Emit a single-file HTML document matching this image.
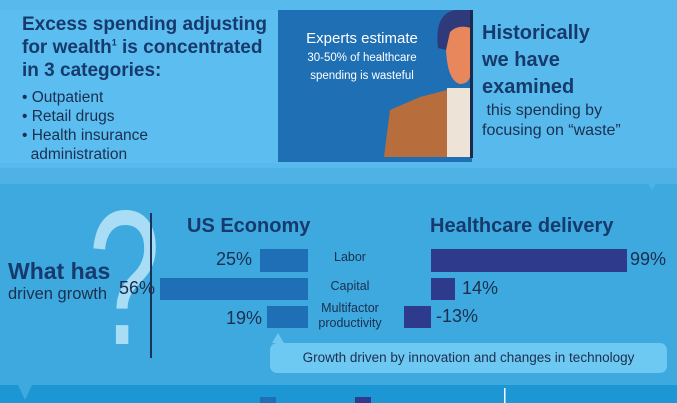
<!DOCTYPE html>
<html><head><meta charset="utf-8"><style>
body{margin:0;width:677px;height:403px;overflow:hidden;position:relative;background:#3da9de;font-family:"Century Gothic","Liberation Sans",sans-serif}
div{position:absolute}
.t{white-space:nowrap}
.r{text-align:right;width:60px}
</style></head><body>
<div style="left:0;top:0;width:677px;height:178px;background:#58b9ec"></div>
<div style="left:0;top:168px;width:677px;height:16px;background:#4eb2e6"></div>
<div style="left:0;top:10px;width:278px;height:153px;background:#5bbdf0"></div>
<div style="left:278px;top:10px;width:194px;height:152px;background:#1f6fb5"></div>
<svg style="position:absolute;left:0;top:0" width="677" height="403">
<polygon points="384,157 390,110 420,97 447,90 447,157" fill="#b86d3d"/>
<rect x="447" y="88" width="24" height="69" fill="#ede3d6"/>
<path d="M446,30 Q444,80 460,84 Q471,84 471,70 L471,22 L448,22 Z" fill="#e8875c"/>
<path d="M438,48 Q434,14 455,10 L471,10 L471,28 Q458,24 450,32 L446,50 Z" fill="#2e3a7a"/>
<rect x="470" y="10" width="3" height="148" fill="#1b2a4a"/>
<polygon points="645,178 660,178 652,190" fill="#4eb2e6"/>
<text x="0" y="0" transform="translate(88,344) scale(0.68,1)" font-family="Liberation Sans,sans-serif" font-size="192" fill="#a9dcf5">?</text>
<rect x="150" y="213" width="2" height="145" fill="#1b3358"/>
<polygon points="272,343 278,333 284,343" fill="#6dc8f2"/>
<rect x="0" y="385" width="677" height="18" fill="#1d97d3"/>
<polygon points="18,385 32,385 25,400" fill="#3da9de"/>
<rect x="260" y="397" width="16" height="6" fill="#1e6fb5"/>
<rect x="355" y="397" width="16" height="6" fill="#2e3a8c"/>
<rect x="504" y="388" width="1.5" height="15" fill="#ffffff"/>
</svg>
<div class="t" style="left:22px;top:13px;font-size:19px;font-weight:bold;line-height:23px;color:#163a6b">Excess spending adjusting<br>for wealth<sup style="font-size:9px;line-height:0">1</sup> is concentrated<br>in 3 categories:</div>
<div class="t" style="left:22px;top:88px;font-size:15.5px;line-height:19px;color:#1b2f4f">• Outpatient<br>• Retail drugs<br>• Health insurance<br>&nbsp;&nbsp;administration</div>
<div class="t" style="left:292px;top:30px;font-size:15px;color:#fff;text-align:center;width:140px;line-height:18px">Experts estimate<br><span style="font-size:11.5px;line-height:14px">30-50% of healthcare<br>spending is wasteful</span></div>
<div class="t" style="left:482px;top:20px;font-size:20px;font-weight:bold;line-height:27px;color:#163a6b">Historically<br>we have<br>examined</div>
<div class="t" style="left:482px;top:101px;font-size:16px;line-height:20px;color:#1b2f4f">&nbsp;this spending by<br>focusing on “waste”</div>
<div class="t" style="left:8px;top:258px;font-size:23px;font-weight:bold;color:#163a6b">What has</div>
<div class="t" style="left:8px;top:285px;font-size:16.5px;color:#1b2f4f">driven growth</div>
<div class="t" style="left:187px;top:215px;font-size:20px;font-weight:bold;color:#163a6b">US Economy</div>
<div class="t" style="left:430px;top:215px;font-size:20px;font-weight:bold;color:#163a6b">Healthcare delivery</div>
<div style="left:260px;top:249px;width:48px;height:23px;background:#1e6fb5"></div>
<div style="left:160px;top:278px;width:148px;height:22px;background:#1e6fb5"></div>
<div style="left:267px;top:306px;width:41px;height:22px;background:#1e6fb5"></div>
<div style="left:431px;top:249px;width:196px;height:23px;background:#2e3a8c"></div>
<div style="left:431px;top:278px;width:24px;height:22px;background:#2e3a8c"></div>
<div style="left:404px;top:306px;width:27px;height:22px;background:#2e3a8c"></div>
<div class="t r" style="left:192px;top:249px;font-size:18px;color:#1b2f4f">25%</div>
<div class="t r" style="left:95px;top:278px;font-size:18px;color:#1b2f4f">56%</div>
<div class="t r" style="left:202px;top:308px;font-size:18px;color:#1b2f4f">19%</div>
<div class="t" style="left:630px;top:249px;font-size:18px;color:#1b2f4f">99%</div>
<div class="t" style="left:462px;top:278px;font-size:18px;color:#1b2f4f">14%</div>
<div class="t" style="left:436px;top:306px;font-size:18px;color:#1b2f4f">-13%</div>
<div class="t" style="left:300px;top:250px;width:100px;text-align:center;font-size:12.5px;color:#1b2f4f">Labor</div>
<div class="t" style="left:300px;top:279px;width:100px;text-align:center;font-size:12.5px;color:#1b2f4f">Capital</div>
<div class="t" style="left:300px;top:301px;width:100px;text-align:center;font-size:12.5px;line-height:15px;color:#1b2f4f">Multifactor<br>productivity</div>
<div class="t" style="left:270px;top:343px;width:397px;height:30px;background:#6dc8f2;border-radius:7px;font-size:13.5px;line-height:30px;text-align:center;color:#1b2f4f">Growth driven by innovation and changes in technology</div>
</body></html>
